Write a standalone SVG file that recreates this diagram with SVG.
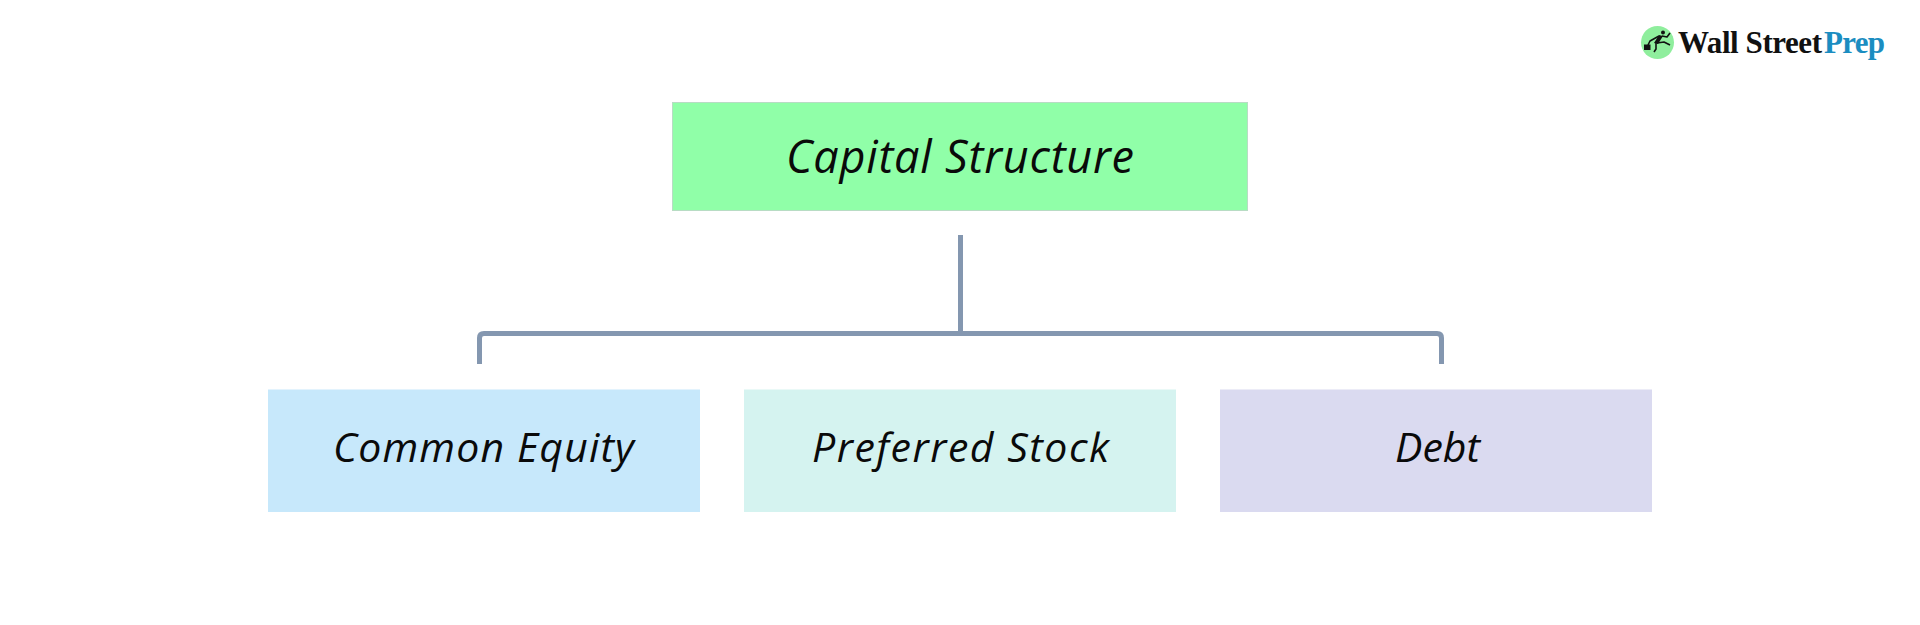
<svg xmlns="http://www.w3.org/2000/svg" width="1920" height="625" viewBox="0 0 1920 625">
<style>
.hand{font-family:"Open Sans","Noto Sans",cursive;font-style:italic;font-weight:400;fill:#0a0a0a}
.conn{fill:none;stroke:#8497b0;stroke-width:5}
.logo{font-family:"Liberation Serif",serif;font-weight:700;font-size:31px}
.limb{fill:none;stroke:#111;stroke-width:1.6;stroke-linejoin:round}
</style>
<rect width="1920" height="625" fill="#fff"/>
<g id="connectors">
<path class="conn" d="M960.5 235V333.5"/>
<path class="conn" d="M479.5 364V338Q479.5 333.5 484 333.5H1437Q1441.5 333.5 1441.5 338V364"/>
</g>
<g id="node-capital-structure">
<rect x="672.5" y="102.5" width="575" height="108" fill="#90ffa8" stroke="#b8dcc4" stroke-width="1"/>
<text class="hand" x="786" y="173" font-size="45" textLength="348">Capital Structure</text>
</g>
<g id="node-common-equity">
<rect x="268" y="389.5" width="432" height="122.5" fill="#c7e8fb"/>
<text class="hand" x="333" y="462" font-size="41" textLength="301">Common Equity</text>
</g>
<g id="node-preferred-stock">
<rect x="744" y="389.5" width="432" height="122.5" fill="#d5f3f0"/>
<text class="hand" x="812" y="462" font-size="41" textLength="297">Preferred Stock</text>
</g>
<g id="node-debt">
<rect x="1220" y="389.5" width="432" height="122.5" fill="#dadaf0"/>
<text class="hand" x="1395" y="462" font-size="41" textLength="85">Debt</text>
</g>
<g id="logo">
<circle cx="1657.5" cy="42.5" r="16.5" fill="#8fee9d"/>
<circle cx="1663" cy="32.5" r="2" fill="#111"/>
<path d="M1659 35L1663 36L1658 44L1654 43Z" fill="#111"/>
<path class="limb" d="M1659 36L1650 41L1648 45M1662 36L1667 37L1670 33M1657 43L1664 42L1670 45M1656 43L1656 49L1654 52"/>
<rect x="1644" y="44.5" width="6.5" height="5.5" fill="#111"/>
<text class="logo" x="1678" y="53" fill="#111" textLength="144">Wall Street</text>
<text class="logo" x="1824" y="53" fill="#1b8dc1" textLength="61">Prep</text>
</g>
</svg>
